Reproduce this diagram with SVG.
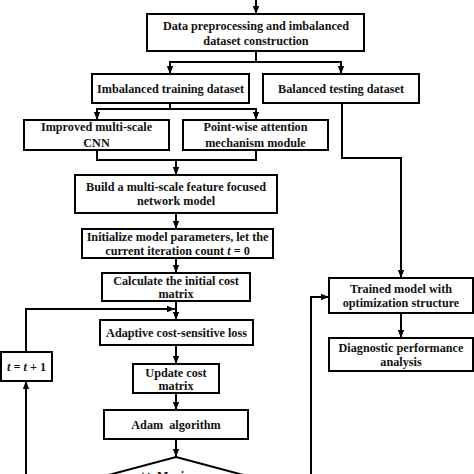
<svg xmlns="http://www.w3.org/2000/svg" width="474" height="474" viewBox="0 0 474 474">
<defs>
<marker id="ah" markerUnits="userSpaceOnUse" markerWidth="8" markerHeight="8" viewBox="0 0 8 8" refX="8" refY="4" orient="auto">
<path d="M0,0.8 L8,4 L0,7.2 Z" fill="#000"/>
</marker>
<style>
rect, polygon.box { fill: #fff; stroke: #000; stroke-width: 2; }
.c line, .c polyline { fill: none; stroke: #000; stroke-width: 2; }
.a { marker-end: url(#ah); }
text { font-family: "Liberation Serif", "Times New Roman", serif; font-weight: bold; font-size: 12.2px; text-anchor: middle; fill: #111; }
.i { font-style: italic; }
</style>
</defs>
<rect x="0" y="0" width="474" height="474" fill="#fff" style="stroke:none"/>
<g class="c" id="connectors">
<line class="a" x1="256" y1="0" x2="256" y2="14"/>
<line x1="256" y1="51" x2="256" y2="62"/>
<line x1="169" y1="62" x2="342" y2="62"/>
<line class="a" x1="170" y1="62" x2="170" y2="74"/>
<line class="a" x1="341" y1="62" x2="341" y2="74"/>
<line x1="170" y1="103" x2="170" y2="109"/>
<line x1="96" y1="109" x2="257" y2="109"/>
<line class="a" x1="97" y1="109" x2="97" y2="120"/>
<line class="a" x1="256" y1="109" x2="256" y2="120"/>
<polyline points="97,150 97,160 256,160 256,150"/>
<line class="a" x1="176" y1="160" x2="176" y2="175"/>
<line class="a" x1="176" y1="213" x2="176" y2="229"/>
<line class="a" x1="176" y1="258" x2="176" y2="273"/>
<line class="a" x1="176" y1="301" x2="176" y2="320"/>
<polyline class="a" points="26,352 26,309 175,309"/>
<line class="a" x1="176" y1="345" x2="176" y2="364"/>
<line class="a" x1="176" y1="393" x2="176" y2="410"/>
<line class="a" x1="176" y1="439" x2="176" y2="457"/>
<line class="a" x1="26" y1="474" x2="26" y2="381"/>
<polyline class="a" points="342,103 342,158 401,158 401,278"/>
<polyline class="a" points="311,474 311,297 329,297"/>
<line class="a" x1="401" y1="313" x2="401" y2="338"/>
</g>
<g id="n-data"><rect x="147" y="14" width="217" height="37"/><text x="256" y="29.5">Data preprocessing and imbalanced</text><text x="256" y="44.5">dataset construction</text></g>
<g id="n-train"><rect x="92" y="74" width="157" height="29"/><text x="170.5" y="93">Imbalanced training dataset</text></g>
<g id="n-test"><rect x="263" y="74" width="156" height="29"/><text x="341" y="93">Balanced testing dataset</text></g>
<g id="n-cnn"><rect x="24" y="120" width="145" height="30"/><text x="96.5" y="131">Improved multi-scale</text><text x="96.5" y="146.5">CNN</text></g>
<g id="n-pw"><rect x="183" y="120" width="145" height="30"/><text x="255.5" y="131">Point-wise attention</text><text x="255.5" y="146.5">mechanism module</text></g>
<g id="n-build"><rect x="75" y="175" width="202" height="38"/><text x="176" y="191">Build a multi-scale feature focused</text><text x="176" y="205">network model</text></g>
<g id="n-init"><rect x="82" y="229" width="191" height="29"/><text x="177.5" y="241">Initialize model parameters, let the</text><text x="177.5" y="255">current iteration count <tspan class="i">t</tspan> = 0</text></g>
<g id="n-calc"><rect x="102" y="273" width="148" height="28"/><text x="176" y="284.5">Calculate the initial cost</text><text x="176" y="298">matrix</text></g>
<g id="n-adapt"><rect x="100" y="320" width="153" height="25"/><text x="176.5" y="337">Adaptive cost-sensitive loss</text></g>
<g id="n-update"><rect x="133" y="364" width="86" height="29"/><text x="176" y="376.5">Update cost</text><text x="176" y="390">matrix</text></g>
<g id="n-adam"><rect x="104" y="410" width="144" height="29"/><text x="176" y="429" xml:space="preserve">Adam  algorithm</text></g>
<g id="n-cond"><polygon class="box" points="176,457 251,477 176,497 101,477"/><text x="176" y="480"><tspan class="i">t</tspan> ≥ Maximum</text></g>
<g id="n-inc"><rect x="1" y="352" width="51" height="29"/><text x="26.5" y="371"><tspan class="i">t</tspan> = <tspan class="i">t</tspan> + 1</text></g>
<g id="n-trained"><rect x="329" y="278" width="144" height="35"/><text x="401" y="293">Trained model with</text><text x="401" y="307">optimization structure</text></g>
<g id="n-diag"><rect x="329" y="338" width="144" height="33"/><text x="401" y="352">Diagnostic performance</text><text x="401" y="366">analysis</text></g>
</svg>
